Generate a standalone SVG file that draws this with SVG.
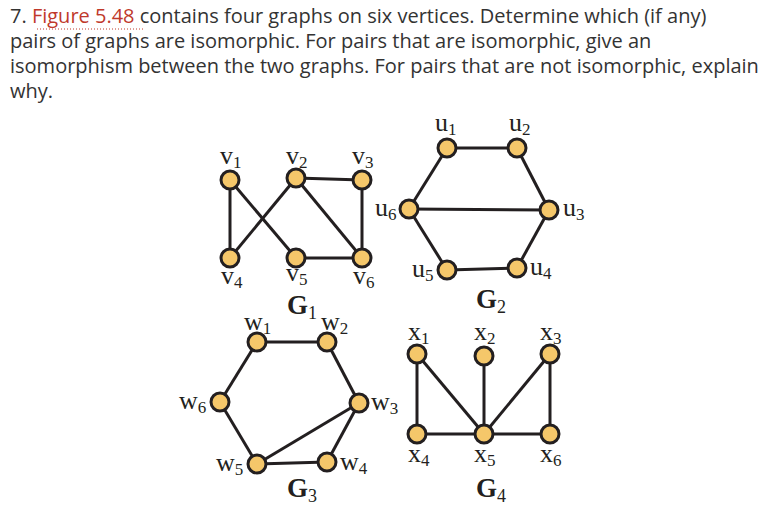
<svg xmlns="http://www.w3.org/2000/svg" width="771" height="516" viewBox="0 0 771 516">
<style>
.t{font-family:"Open Sans",sans-serif;font-size:20px;fill:#333}
.e line{stroke:#231f20;stroke-width:3}
.n{fill:#f5c76a;stroke:#231f20;stroke-width:3}
.lab text{font-family:"Liberation Serif",serif;font-style:normal;font-size:26px;fill:#231f20}
.lab tspan{font-size:17px}
.g{font-family:"Liberation Serif",serif;font-weight:bold;font-size:27px;fill:#231f20}
.gs{font-size:18px;font-weight:normal}
</style>
<rect width="771" height="516" fill="#fff"/>
<text class="t" x="10" y="23">7. <tspan fill="#c0392b">Figure 5.48</tspan> contains four graphs on six vertices. Determine which (if any)</text>
<line x1="37" y1="29" x2="143" y2="29" stroke="#c0392b" stroke-dasharray="1,2"/>
<text class="t" x="10" y="48">pairs of graphs are isomorphic. For pairs that are isomorphic, give an</text>
<text class="t" x="10" y="73">isomorphism between the two graphs. For pairs that are not isomorphic, explain</text>
<text class="t" x="10" y="98">why.</text>
<g class="e" id="connectors">
<line x1="230" y1="180" x2="230" y2="258"/><line x1="230" y1="180" x2="296" y2="258"/><line x1="296" y1="178" x2="230" y2="258"/><line x1="296" y1="178" x2="362" y2="180"/><line x1="296" y1="178" x2="362" y2="258"/><line x1="362" y1="180" x2="362" y2="258"/><line x1="296" y1="258" x2="362" y2="258"/>
<line x1="447" y1="148" x2="517" y2="148"/><line x1="517" y1="148" x2="549" y2="210"/><line x1="549" y1="210" x2="517" y2="268"/><line x1="517" y1="268" x2="447" y2="270"/><line x1="447" y1="270" x2="409" y2="209"/><line x1="409" y1="209" x2="447" y2="148"/><line x1="409" y1="209" x2="549" y2="210"/>
<line x1="257" y1="342" x2="327" y2="342"/><line x1="327" y1="342" x2="359" y2="403"/><line x1="359" y1="403" x2="327" y2="462"/><line x1="327" y1="462" x2="257" y2="464"/><line x1="257" y1="464" x2="220" y2="402"/><line x1="220" y1="402" x2="257" y2="342"/><line x1="257" y1="464" x2="359" y2="403"/>
<line x1="417" y1="354" x2="417" y2="434"/><line x1="417" y1="354" x2="484" y2="434"/><line x1="484" y1="356" x2="484" y2="434"/><line x1="550" y1="354" x2="484" y2="434"/><line x1="550" y1="354" x2="550" y2="434"/><line x1="417" y1="434" x2="550" y2="434"/>
</g>
<g id="G1" class="lab">
<circle class="n" cx="230" cy="180" r="9"/><circle class="n" cx="296" cy="178" r="9"/><circle class="n" cx="362" cy="180" r="9"/><circle class="n" cx="230" cy="258" r="9"/><circle class="n" cx="296" cy="258" r="9"/><circle class="n" cx="362" cy="258" r="9"/>
<text x="220" y="164">v<tspan dy="4">1</tspan></text>
<text x="286" y="164">v<tspan dy="4">2</tspan></text>
<text x="352" y="164">v<tspan dy="4">3</tspan></text>
<text x="221" y="284">v<tspan dy="4">4</tspan></text>
<text x="286" y="281">v<tspan dy="4">5</tspan></text>
<text x="353" y="284">v<tspan dy="4">6</tspan></text>
</g>
<text class="g" x="287" y="314">G<tspan class="gs" dy="5">1</tspan></text>
<g id="G2" class="lab">
<circle class="n" cx="447" cy="148" r="9"/><circle class="n" cx="517" cy="148" r="9"/><circle class="n" cx="549" cy="210" r="9"/><circle class="n" cx="517" cy="268" r="9"/><circle class="n" cx="447" cy="270" r="9"/><circle class="n" cx="409" cy="209" r="9"/>
<text x="435" y="131">u<tspan dy="4">1</tspan></text>
<text x="509" y="131">u<tspan dy="4">2</tspan></text>
<text x="563" y="216">u<tspan dy="4">3</tspan></text>
<text x="530" y="275">u<tspan dy="4">4</tspan></text>
<text x="412" y="277">u<tspan dy="4">5</tspan></text>
<text x="375" y="216">u<tspan dy="4">6</tspan></text>
</g>
<text class="g" x="476" y="308">G<tspan class="gs" dy="5">2</tspan></text>
<g id="G3" class="lab">
<circle class="n" cx="257" cy="342" r="9"/><circle class="n" cx="327" cy="342" r="9"/><circle class="n" cx="359" cy="403" r="9"/><circle class="n" cx="327" cy="462" r="9"/><circle class="n" cx="257" cy="464" r="9"/><circle class="n" cx="220" cy="402" r="9"/>
<text x="244" y="330">w<tspan dy="4">1</tspan></text>
<text x="321" y="330">w<tspan dy="4">2</tspan></text>
<text x="371" y="410">w<tspan dy="4">3</tspan></text>
<text x="340" y="470">w<tspan dy="4">4</tspan></text>
<text x="216" y="471">w<tspan dy="4">5</tspan></text>
<text x="179" y="409">w<tspan dy="4">6</tspan></text>
</g>
<text class="g" x="287" y="497">G<tspan class="gs" dy="5">3</tspan></text>
<g id="G4" class="lab">
<circle class="n" cx="417" cy="354" r="9"/><circle class="n" cx="484" cy="356" r="9"/><circle class="n" cx="550" cy="354" r="9"/><circle class="n" cx="417" cy="434" r="9"/><circle class="n" cx="484" cy="434" r="9"/><circle class="n" cx="550" cy="434" r="9"/>
<text x="408" y="340">x<tspan dy="4">1</tspan></text>
<text x="474" y="340">x<tspan dy="4">2</tspan></text>
<text x="540" y="340">x<tspan dy="4">3</tspan></text>
<text x="408" y="462">x<tspan dy="4">4</tspan></text>
<text x="474" y="462">x<tspan dy="4">5</tspan></text>
<text x="540" y="462">x<tspan dy="4">6</tspan></text>
</g>
<text class="g" x="476" y="497">G<tspan class="gs" dy="5">4</tspan></text>
</svg>
